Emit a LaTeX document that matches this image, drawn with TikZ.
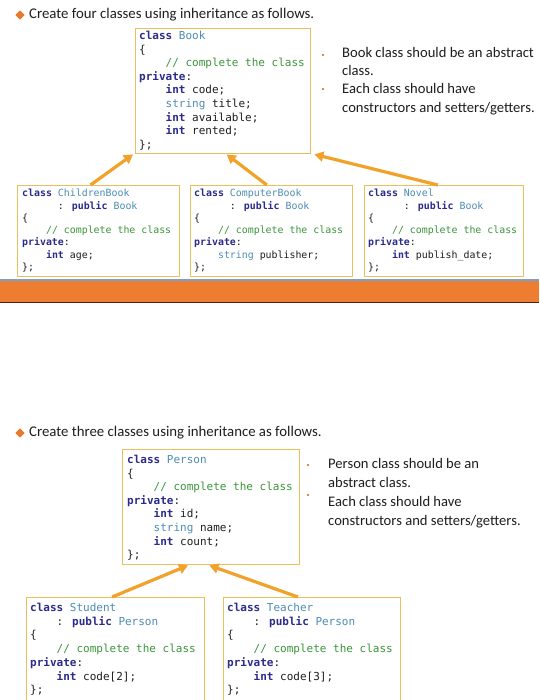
\documentclass[tikz,border=0pt]{standalone}
\usepackage{fontspec}
\setmainfont{Carlito}
\newfontfamily\codefont{DejaVu Sans Mono}
\usetikzlibrary{arrows.meta,calc}
\definecolor{kwc}{HTML}{2B2B8C}
\definecolor{tyc}{HTML}{4C8DB3}
\definecolor{cmc}{HTML}{3D953D}
\definecolor{boxc}{HTML}{EDBE5C}
\definecolor{arrc}{HTML}{F2A22A}
\definecolor{bulc}{HTML}{E8883A}
\definecolor{diac}{HTML}{E8782C}
\definecolor{bandc}{HTML}{ED7D31}
\definecolor{txtc}{HTML}{1E1E1E}
\newcommand\ckw[1]{\textcolor{kwc}{\textbf{#1}}}
\newcommand\cty[1]{\textcolor{tyc}{#1}}
\newcommand\ccm[1]{\textcolor{cmc}{#1}}
\newcommand\cind{\hphantom{0000}}
\newcommand\csix{\hphantom{000000}}
\tikzset{
  classbox/.style={draw=boxc, line width=1.4pt, fill=white, anchor=north west, inner sep=0pt},
  bigcode/.style={anchor=north west, inner sep=0pt, align=left, text=txtc,
    font=\codefont\fontsize{11}{13.6}\selectfont},
  smallcode/.style={anchor=north west, inner sep=0pt, align=left, text=txtc,
    font=\codefont\fontsize{9.9}{12.3}\selectfont},
  inh/.style={draw=arrc, line width=3.2pt, -{Triangle[length=9pt,width=10pt]}},
  title/.style={anchor=west, inner sep=0pt, text=txtc, font=\fontsize{14.8}{16}\selectfont},
  note/.style={anchor=north west, inner sep=0pt, align=left, text=txtc,
    font=\fontsize{14.6}{18.3}\selectfont},
  bul/.style={fill=bulc, minimum size=2.6pt, inner sep=0pt},
  dia/.style={fill=diac, minimum size=6.5pt, inner sep=0pt, rotate=45},
}
\begin{document}
\begin{tikzpicture}[x=1pt,y=-1pt]
\useasboundingbox (0,0) rectangle (539,700);
\fill[white] (0,0) rectangle (539,700);

% ---------- slide 1 ----------
\node[dia] (d1) at (20,15) {};
\node[title] (t1) at (29,15) {Create four classes using inheritance as follows.};

\node[classbox, minimum width=175pt, minimum height=125pt] (book) at (135,28) {};
\node[bigcode] (booktxt) at (139,31) {%
\ckw{class} \cty{Book}\\
\{\\
\cind\ccm{// complete the class}\\
\ckw{private}:\\
\cind\ckw{int} code;\\
\cind\cty{string} title;\\
\cind\ckw{int} available;\\
\cind\ckw{int} rented;\\
\};};

\node[bul] (b1) at (323,55) {};
\node[bul] (b2) at (323,89) {};
\node[note] (n1) at (342,47) {Book class should be an abstract\\class.\\Each class should have\\constructors and setters/getters.};

\node[classbox, minimum width=162pt, minimum height=91pt] (child) at (17,185) {};
\node[smallcode] (childtxt) at (22,189) {%
\ckw{class} \cty{ChildrenBook}\\
\csix: \ckw{public} \cty{Book}\\
\{\\
\cind\ccm{// complete the class}\\
\ckw{private}:\\
\cind\ckw{int} age;\\
\};};

\node[classbox, minimum width=162pt, minimum height=91pt] (comp) at (190,185) {};
\node[smallcode] (comptxt) at (194,189) {%
\ckw{class} \cty{ComputerBook}\\
\csix: \ckw{public} \cty{Book}\\
\{\\
\cind\ccm{// complete the class}\\
\ckw{private}:\\
\cind\cty{string} publisher;\\
\};};

\node[classbox, minimum width=159pt, minimum height=91pt] (novel) at (364,185) {};
\node[smallcode] (noveltxt) at (368,189) {%
\ckw{class} \cty{Novel}\\
\csix: \ckw{public} \cty{Book}\\
\{\\
\cind\ccm{// complete the class}\\
\ckw{private}:\\
\cind\ckw{int} publish\_date;\\
\};};

\draw[inh] ($(child.north west)!0.45!(child.north east)$) -- ([xshift=-2pt]book.south west);
\draw[inh] ($(comp.north west)!0.47!(comp.north east)$) -- ($(book.south west)!0.52!(book.south east)$);
\draw[inh] ($(novel.north west)!0.46!(novel.north east)$) -- ([xshift=3pt]book.south east);

% footer band
\fill[bandc] (0,280) rectangle (539,302);
\draw[color={rgb,255:red,120;green,160;blue,200}, line width=1.2pt] (0,280) -- (539,280);
\draw[color={rgb,255:red,80;green,30;blue,10}, line width=1.6pt] (0,302.5) -- (539,302.5);

% ---------- slide 2 ----------
\node[dia] (d2) at (20,433) {};
\node[title] (t2) at (29,433) {Create three classes using inheritance as follows.};

\node[classbox, minimum width=177pt, minimum height=115pt] (person) at (122,449) {};
\node[bigcode] (persontxt) at (127,455) {%
\ckw{class} \cty{Person}\\
\{\\
\cind\ccm{// complete the class}\\
\ckw{private}:\\
\cind\ckw{int} id;\\
\cind\cty{string} name;\\
\cind\ckw{int} count;\\
\};};

\node[bul] (b3) at (308,465) {};
\node[bul] (b4) at (308,495) {};
\node[note, font=\fontsize{14.6}{19}\selectfont] (n2) at (328,458) {Person class should be an\\abstract class.\\Each class should have\\constructors and setters/getters.};

\node[classbox, minimum width=178pt, minimum height=104pt] (student) at (26,597) {};
\node[bigcode, font=\codefont\fontsize{11}{13.7}\selectfont] (studenttxt) at (30,603) {%
\ckw{class} \cty{Student}\\
\cind: \ckw{public} \cty{Person}\\
\{\\
\cind\ccm{// complete the class}\\
\ckw{private}:\\
\cind\ckw{int} code[2];\\
\};};

\node[classbox, minimum width=177pt, minimum height=104pt] (teacher) at (223,597) {};
\node[bigcode, font=\codefont\fontsize{11}{13.7}\selectfont] (teachertxt) at (227,603) {%
\ckw{class} \cty{Teacher}\\
\cind: \ckw{public} \cty{Person}\\
\{\\
\cind\ccm{// complete the class}\\
\ckw{private}:\\
\cind\ckw{int} code[3];\\
\};};

\draw[inh] ($(student.north west)!0.48!(student.north east)$) -- ($(person.south west)!0.37!(person.south east)$);
\draw[inh] ($(teacher.north west)!0.42!(teacher.north east)$) -- ($(person.south west)!0.49!(person.south east)$);
\end{tikzpicture}
\end{document}
